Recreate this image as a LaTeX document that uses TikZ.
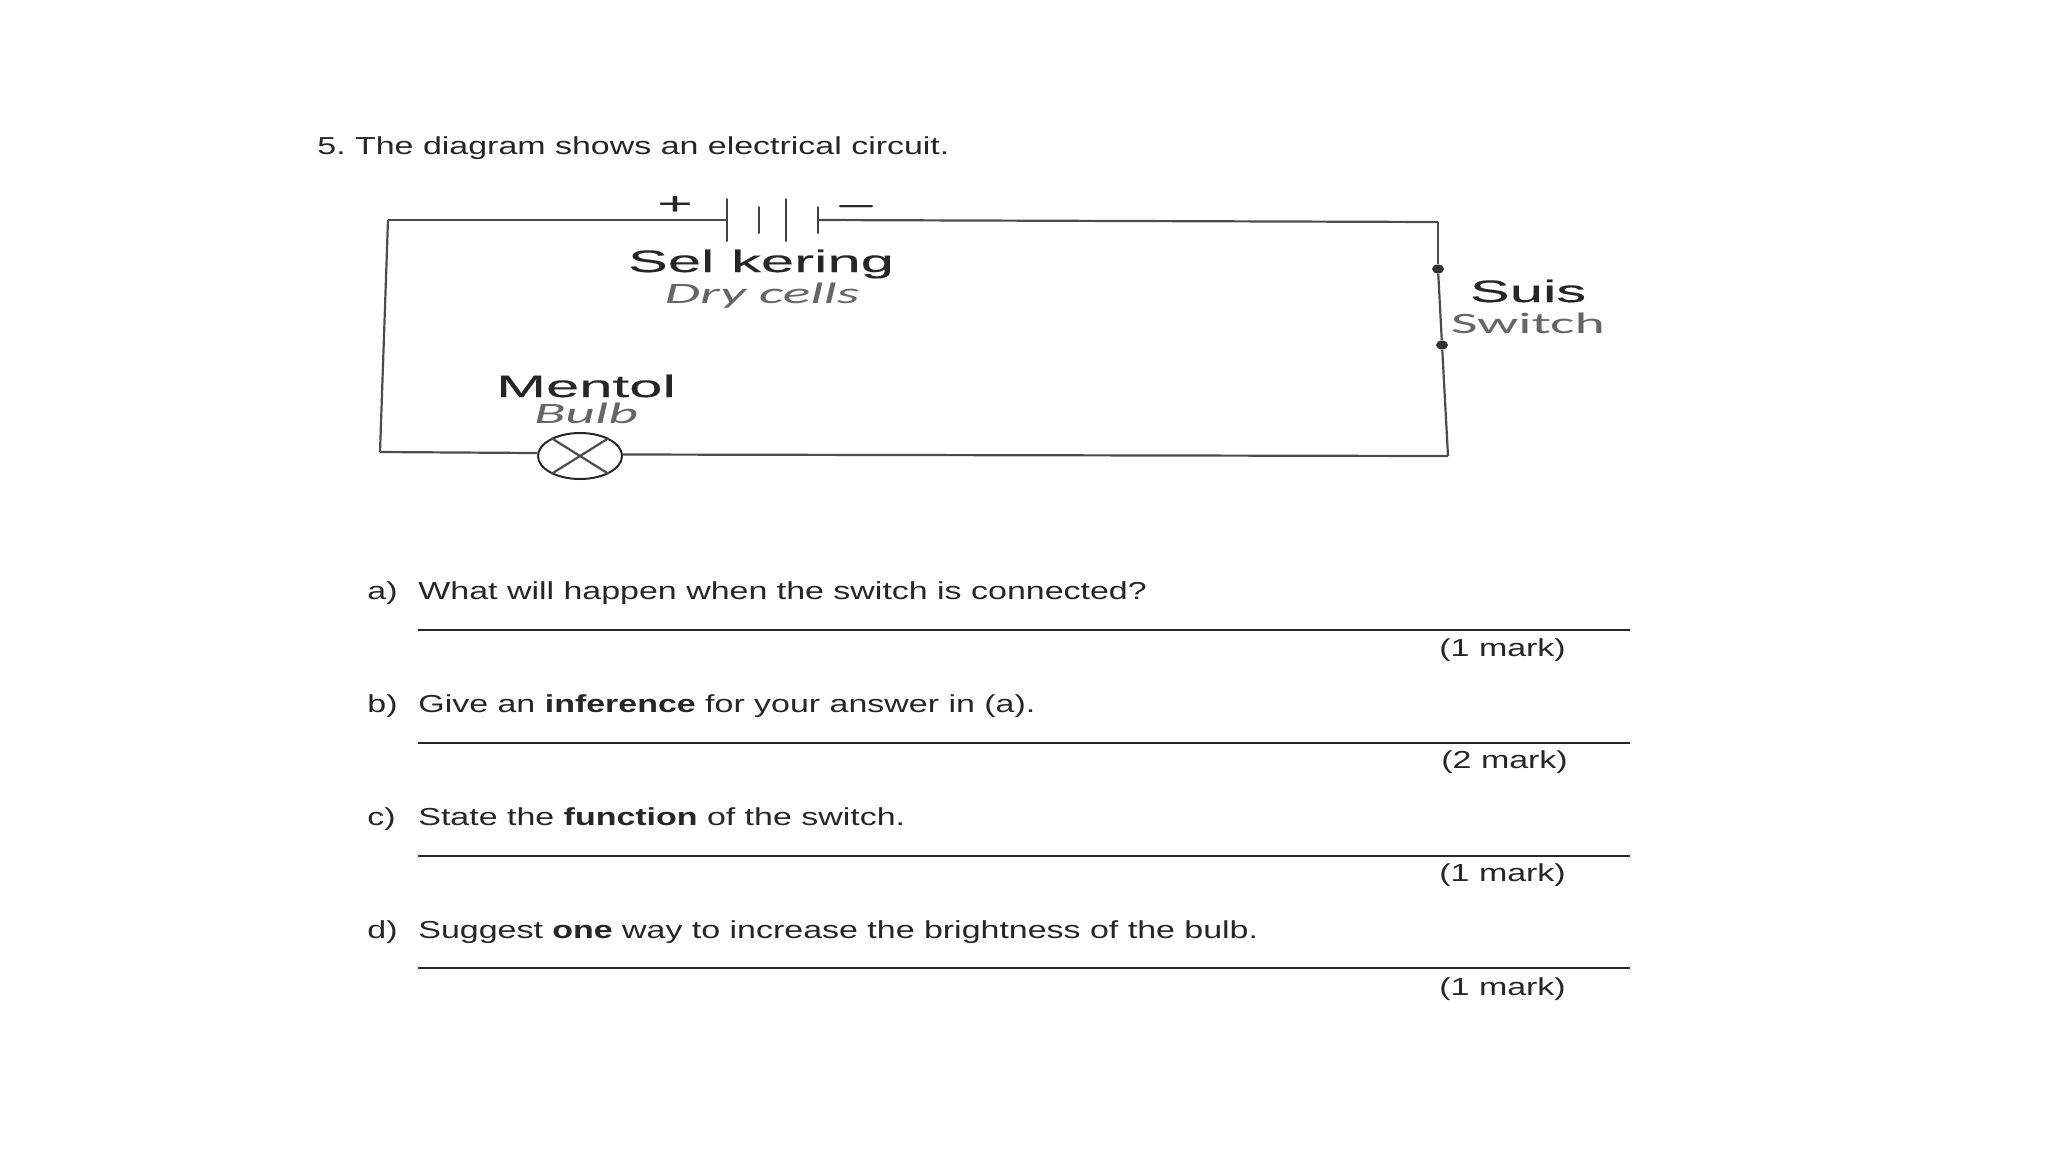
\documentclass[tikz,border=0pt]{standalone}
\usepackage{fontspec}
\setmainfont[FakeStretch=1.38]{Liberation Sans}
\newfontfamily\labelfont[FakeStretch=1.93, FakeBold=0.3]{Liberation Sans}
\newfontfamily\cellfont[FakeStretch=1.95]{Carlito}
\usetikzlibrary{positioning, shapes.geometric}

\tikzset{
    wire/.style={draw=black!70, line width=1.1pt},
    longplate/.style={draw=black!75, line width=1pt, minimum width=0pt, minimum height=21.5pt, inner sep=0pt},
    shortplate/.style={longplate, minimum height=13.5pt},
    contact/.style={ellipse, fill=black!80, minimum width=6pt, minimum height=4.5pt, inner sep=0pt},
    lamp/.style={ellipse, draw=black!85, line width=1pt, minimum width=42pt, minimum height=23pt, inner sep=0pt},
    maintext/.style={anchor=base west, inner sep=0pt, text=black!85, font=\fontsize{12.3}{14}\selectfont\frenchspacing},
    marktext/.style={maintext},
    answer/.style={draw=black!85, line width=0.7pt},
    malay/.style={anchor=base, inner sep=0pt, text=black!85, font=\labelfont\fontsize{15.5}{18}\selectfont},
    english/.style={anchor=base, inner sep=0pt, text=black!60, font=\cellfont\itshape\fontsize{14.8}{18}\selectfont},
    englishup/.style={english, font=\cellfont\fontsize{14.8}{18}\selectfont}
}

\begin{document}
\begin{tikzpicture}[x=0.5pt, y=-0.5pt, on grid]
        \useasboundingbox (0,0) rectangle (2048,1152);
        % circuit
        \coordinate (tl) at (388,220);
        \coordinate (tr) at (1438,222);
        \coordinate (br) at (1448,456);
        \coordinate (bl) at (380,452);
        \node[longplate](c1) at (727,220){};
        \node[shortplate](c2)[right=16pt of c1]{};
        \node[longplate](c3)[right=13.5pt of c2]{};
        \node[shortplate](c4)[right=16pt of c3]{};
        \node[lamp](bulb) at (580,456){};
        \node[contact](s1) at (1438,269){};
        \node[contact](s2) at (1442,345){};
        \path[wire]
        (c1.center)    edge (tl)
        (tl)    edge (bl)
        (bl)    edge (bulb.176)
        (bulb.2)  edge (br)
        (br)    edge (s2)
        (s2)    edge (s1)
        (s1)    edge (tr)
        (tr)    edge (c4.center)
        (bulb.32)    edge (bulb.212)
        (bulb.148)   edge (bulb.328);
        \node[malay](plus) at (675,214){+};
        \node[malay](minus) at (856,214){–};
        \node[malay](selkering) at (761,272){Sel kering};
        \node[english](drycells) at (762,303){Dry cells};
        \node[malay](mentol) at (586,397){Mentol};
        \node[english](bulbtext) at (586,423){Bulb};
        \node[malay](suis) at (1528,302){Suis};
        \node[englishup](switchtext) at (1528,333){Switch};
        % questions
        \node[maintext](title) at (317,154.5){5. The diagram shows an electrical circuit.};
        \node[maintext](qa) at (367,599){a)};
        \node[maintext](ta) at (418,599){What will happen when the switch is connected?};
        \node[maintext](qb) at (367,712.5){b)};
        \node[maintext](tb) at (418,712.5){Give an \textbf{inference} for your answer in (a).};
        \node[maintext](qc) at (367,825.5){c)};
        \node[maintext](tc) at (418,825.5){State the \textbf{function} of the switch.};
        \node[maintext](qd) at (367,938.5){d)};
        \node[maintext](td) at (418,938.5){Suggest \textbf{one} way to increase the brightness of the bulb.};
        \node[marktext](ma) at (1439,656){(1 mark)};
        \node[marktext](mb) at (1441,768){(2 mark)};
        \node[marktext](mc) at (1439,881.5){(1 mark)};
        \node[marktext](md) at (1439,995){(1 mark)};
        \coordinate (la) at (418,630);
        \coordinate (ra) at (1630,630);
        \coordinate (lb) at (418,743);
        \coordinate (rb) at (1630,743);
        \coordinate (lc) at (418,856);
        \coordinate (rc) at (1630,856);
        \coordinate (ld) at (418,968);
        \coordinate (rd) at (1630,968);
        \path[answer]
        (la)    edge (ra)
        (lb)    edge (rb)
        (lc)    edge (rc)
        (ld)    edge (rd);
    \end{tikzpicture}
\end{document}
